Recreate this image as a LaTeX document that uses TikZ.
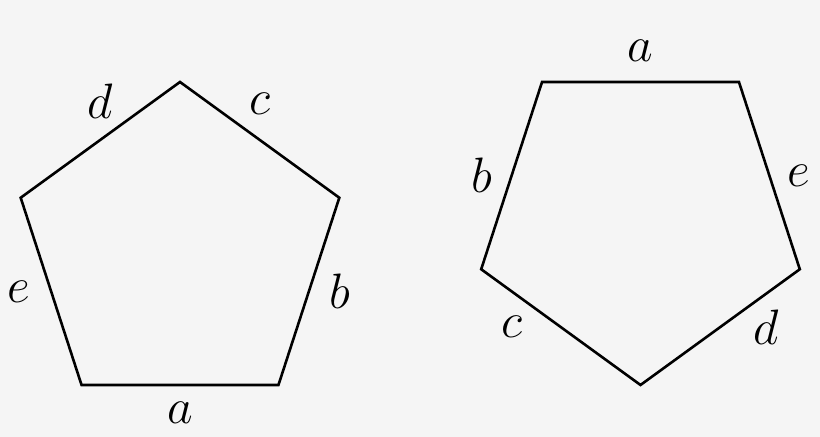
\documentclass[tikz,border=0pt]{standalone}
\usepackage{amsmath}
\usepackage{tikz}
\usetikzlibrary{calc}

\begin{document}
\begin{tikzpicture}[x=0.5pt, y=0.5pt,
			side/.style={draw, line width=1.3pt, line join=miter},
			every node/.style = {font=\fontsize{25}{30}\selectfont, inner sep=0pt}
			]
			
			% Background (fixes the page size)
			\fill[gray!8] (0,0) rectangle (820,437);
			\useasboundingbox (0,0) rectangle (820,437);
			
			% Centres of the two pentagons
			\coordinate (left) at (180,187.5);
			\coordinate (right) at (640.5,219.5);
			
			% Corners
			\foreach \i/\ang in {1/90, 2/18, 3/-54, 4/-126, 5/162}
				\coordinate (L\i) at ($(left)+(\ang:167.5)$);
			\foreach \i/\ang in {1/270, 2/-18, 3/54, 4/126, 5/198}
				\coordinate (R\i) at ($(right)+(\ang:167.5)$);
			
			% Left pentagon
			\draw[side] (L1) -- node[above=12pt] {$c$} (L2)
				-- node[right=9.5pt] {$b$} (L3)
				-- node[below=8pt] {$a$} (L4)
				-- node[left=10pt] {$e$} (L5)
				-- node[above=10pt] {$d$} (L1) -- cycle;
			
			% Right pentagon
			\draw[side] (R1) -- node[right=16pt] {$d$} (R2)
				-- node[right=8.5pt] {$e$} (R3)
				-- node[above=9.5pt] {$a$} (R4)
				-- node[left=9pt] {$b$} (R5)
				-- node[left=18.5pt] {$c$} (R1) -- cycle;
			
		\end{tikzpicture}
\end{document}
